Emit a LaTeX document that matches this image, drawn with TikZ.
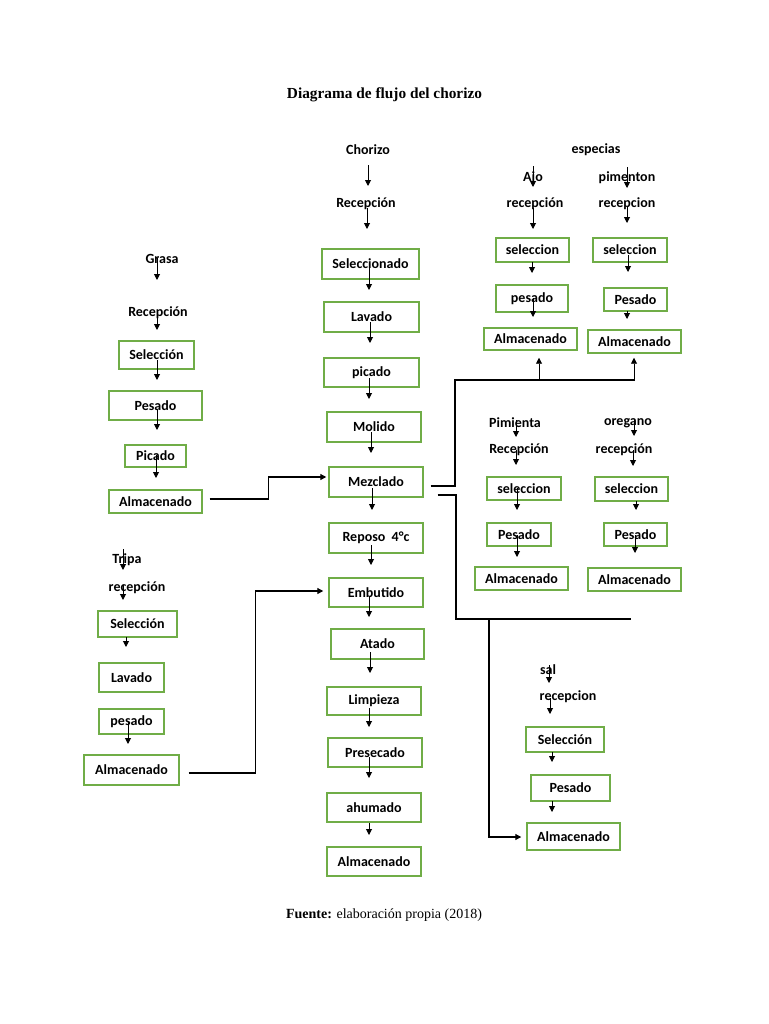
\documentclass[tikz,border=0pt]{standalone}
\usepackage{fontspec}
\setmainfont{Carlito}
\newfontfamily\serifface{Liberation Serif}
\usetikzlibrary{arrows.meta,calc}
\definecolor{boxgreen}{RGB}{112,173,71}
\begin{document}
\begin{tikzpicture}[x=0.75pt,y=-0.75pt,
  lbl/.style={font=\fontsize{10.5}{12}\selectfont\bfseries, inner sep=0pt},
  bx/.style 2 args={lbl, draw=boxgreen, line width=1.1pt, minimum width=#1*0.75pt, minimum height=#2*0.75pt},
  arr/.style={-{Triangle[length=4.5pt,width=4.5pt]}, line width=0.7pt},
  con/.style={line width=0.9pt}]
\useasboundingbox (0,0) rectangle (768,1024);
\fill[white] (0,0) rectangle (768,1024);
% title and source
\node[font=\serifface\bfseries\fontsize{11.5}{14}\selectfont] (title) at (384.5,95) {Diagrama de flujo del chorizo};
\node[font=\serifface\fontsize{10.5}{13}\selectfont] (src) at (384,915) {\textbf{Fuente:} elaboración propia (2018)};
% centre column
\node[lbl] (chor) at (368,150) {Chorizo};
\node[lbl] (rec) at (366,204) {Recepción};
\node[bx={97}{30}] (sel) at (370.5,264) {Seleccionado};
\node[bx={95}{30}] (lav) at (371.5,317) {Lavado};
\node[bx={95}{29}] (pic) at (371.5,372.5) {picado};
\node[bx={94}{30}] (mol) at (374,427) {Molido};
\node[bx={94}{30}] (mez) at (376,482) {Mezclado};
\node[bx={94}{30}] (rep) at (376,538) {Reposo\ \ 4°c};
\node[bx={94}{29}] (emb) at (376,592.5) {Embutido};
\node[bx={93}{30}] (ata) at (377.5,644) {Atado};
\node[bx={94}{28}] (lim) at (374,701) {Limpieza};
\node[bx={94}{29}] (pre) at (375,752.5) {Presecado};
\node[bx={94}{29}] (ahu) at (374,807.5) {ahumado};
\node[bx={94}{29}] (alm) at (374,861.5) {Almacenado};
\draw[arr] ($(chor.center)+(0,15)$) -- ++(0,21);
\draw[arr] ($(rec.center)+(1,4)$) -- ++(0,21);
\draw[arr] ($(sel.center)+(-1.5,4)$) -- ++(0,22);
\draw[arr] ($(lav.center)+(-1.5,5)$) -- ++(0,21);
\draw[arr] ($(pic.center)+(-2.5,5.5)$) -- ++(0,21);
\draw[arr] ($(mol.center)+(-3,5)$) -- ++(0,21);
\draw[arr] ($(mez.center)+(-4,6)$) -- ++(0,22);
\draw[arr] ($(rep.center)+(-5,7)$) -- ++(0,20);
\draw[arr] ($(emb.center)+(-7,4.5)$) -- ++(0,20);
\draw[arr] ($(ata.center)+(-7.5,8)$) -- ++(0,21);
\draw[arr] ($(lim.center)+(-5,7)$) -- ++(0,19);
\draw[arr] ($(pre.center)+(-6,4.5)$) -- ++(0,21);
\draw[arr] ($(ahu.center)+(-5,15.5)$) -- ++(0,12);
% Grasa
\node[lbl] (gr) at (162,259) {Grasa};
\node[lbl] (grec) at (158,313) {Recepción};
\node[bx={75}{28}] (gsel) at (156.5,355) {Selección};
\node[bx={93}{29}] (gpes) at (155.5,405.5) {Pesado};
\node[bx={61}{22}] (gpic) at (155.5,456) {Picado};
\node[bx={93}{23}] (galm) at (155.5,501.5) {Almacenado};
\draw[arr] ($(gr.center)+(-5,-1)$) -- ++(0,22);
\draw[arr] ($(grec.center)+(-1,0)$) -- ++(0,17);
\draw[arr] ($(gsel.center)+(0.5,5)$) -- ++(0,20);
\draw[arr] ($(gpes.center)+(1.5,4.5)$) -- ++(0,20);
\draw[arr] ($(gpic.center)+(0.5,-1)$) -- ++(0,23);
\draw[arr,con] ($(galm.east)+(7,-2.5)$) -- ++(59,0) |- ($(mez.west)+(-2,-5)$);
% Tripa
\node[lbl] (tri) at (127,560) {Tripa};
\node[lbl] (trec) at (137,588) {recepción};
\node[bx={79}{26}] (tsel) at (137.5,624) {Selección};
\node[bx={65}{29}] (tlav) at (131.5,677.5) {Lavado};
\node[bx={65}{25}] (tpes) at (131.5,721.5) {pesado};
\node[bx={95}{30}] (talm) at (131.5,770) {Almacenado};
\draw[arr] ($(tri.center)+(-4,-11)$) -- ++(0,21);
\draw[arr] ($(trec.center)+(-14,-3)$) -- ++(0,15);
\draw[arr] ($(tsel.center)+(-11.5,13)$) -- ++(0,10);
\draw[arr] ($(tpes.center)+(-3.5,0.5)$) -- ++(0,22);
\draw[arr,con] ($(talm.east)+(9,3)$) -- ++(67,0) |- ($(emb.west)+(-5,-1.5)$);
% especias
\node[lbl] (esp) at (596,150) {especias};
\node[lbl] (ajo) at (533,178) {Ajo};
\node[lbl] (arec) at (535,204) {recepción};
\node[bx={73}{24}] (asel) at (532.5,250) {seleccion};
\node[bx={72}{27}] (apes) at (532,298.5) {pesado};
\node[bx={93}{22}] (aalm) at (530.5,339) {Almacenado};
\draw[arr] ($(ajo.center)+(0,-12)$) -- ++(0,21);
\draw[arr] ($(arec.center)+(-2,4)$) -- ++(0,21);
\draw[arr] ($(asel.center)+(-0.5,12)$) -- ++(0,11);
\draw[arr] ($(apes.center)+(1,-0.5)$) -- ++(0,19);
\node[lbl] (pim) at (627,178) {pimenton};
\node[lbl] (prec) at (627,204) {recepcion};
\node[bx={74}{24}] (psel) at (630,250) {seleccion};
\node[bx={63}{23}] (ppes) at (635.5,299.5) {Pesado};
\node[bx={93}{23}] (palm) at (634.5,341.5) {Almacenado};
\draw[arr] ($(pim.center)+(0,-11)$) -- ++(0,21);
\draw[arr] ($(prec.center)+(0,3)$) -- ++(0,16);
\draw[arr] ($(psel.center)+(-2,5)$) -- ++(0,17);
\draw[arr] ($(ppes.center)+(-8.5,11.5)$) -- ++(0,8);
\coordinate (bus1) at (455,380);
\coordinate (bus1e) at (635,380);
\draw[con] ($(mez.east)+(7,4)$) -| (bus1) -- (bus1e);
\draw[arr] ($(aalm.south)+(8.5,30)$) -- ($(aalm.south)+(8.5,7)$);
\draw[arr] ($(palm.south)+(-0.5,27)$) -- ($(palm.south)+(-0.5,4)$);
% Pimienta
\node[lbl] (pimi) at (515,423) {Pimienta};
\node[lbl] (pirec) at (519,450) {Recepción};
\node[bx={74}{23}] (pisel) at (524,488.5) {seleccion};
\node[bx={64}{23}] (pipes) at (519,534.5) {Pesado};
\node[bx={93}{23}] (pialm) at (521.5,578.5) {Almacenado};
\draw[arr] ($(pimi.center)+(1,-3)$) -- ++(0,17);
\draw[arr] ($(pirec.center)+(-3,0)$) -- ++(0,15);
\draw[arr] ($(pisel.center)+(-7,-0.5)$) -- ++(0,22);
\draw[arr] ($(pipes.center)+(-2,0.5)$) -- ++(0,22);
% oregano
\node[lbl] (ore) at (628,423) {oregano};
\node[lbl] (orec) at (624,450) {recepción};
\node[bx={73}{24}] (osel) at (631.5,489) {seleccion};
\node[bx={63}{23}] (opes) at (635.5,534.5) {Pesado};
\node[bx={93}{23}] (oalm) at (634.5,579.5) {Almacenado};
\draw[arr] ($(ore.center)+(6,-3)$) -- ++(0,16);
\draw[arr] ($(orec.center)+(9,0)$) -- ++(0,16);
\draw[arr] ($(osel.center)+(4.5,12)$) -- ++(0,9);
\draw[arr] ($(opes.center)+(-0.5,0.5)$) -- ++(0,18);
% sal
\node[lbl] (sal) at (548,670) {sal};
\node[lbl] (srec) at (568,697) {recepcion};
\node[bx={78}{25}] (ssel) at (565,739.5) {Selección};
\node[bx={79}{26}] (spes) at (570.5,788) {Pesado};
\node[bx={93}{27}] (salm) at (573.5,836.5) {Almacenado};
\draw[arr] ($(sal.center)+(1,-5)$) -- ++(0,18);
\draw[arr] ($(srec.center)+(-18,1)$) -- ++(0,16);
\draw[arr] ($(ssel.center)+(-13,12.5)$) -- ++(0,10);
\draw[arr] ($(spes.center)+(-18.5,13)$) -- ++(0,11);
\coordinate (bus2) at (456,619);
\coordinate (bus2e) at (631,619);
\coordinate (drop) at (489,619);
\draw[con] ($(mez.east)+(14,13)$) -| (bus2) -- (bus2e);
\draw[arr,con] (drop) |- ($(salm.west)+(-5,0.5)$);
\end{tikzpicture}
\end{document}
